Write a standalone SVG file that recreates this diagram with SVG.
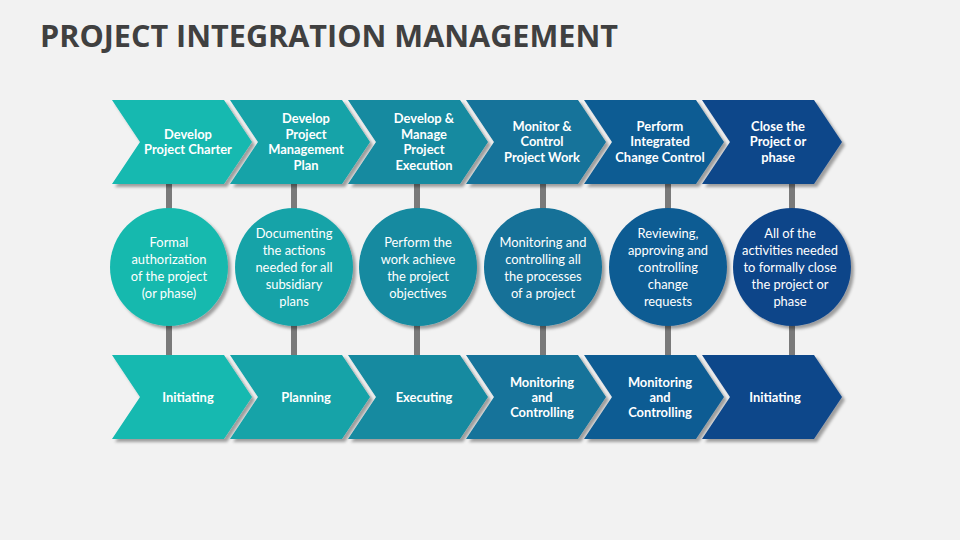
<svg xmlns="http://www.w3.org/2000/svg" width="960" height="540" viewBox="0 0 960 540">
<defs>
<filter id="sh" x="-20%" y="-20%" width="140%" height="140%">
<feDropShadow dx="3" dy="3" stdDeviation="1.8" flood-color="#000" flood-opacity="0.35"/>
</filter>
<path id="chev" d="M0,0 H112 L140,42 L112,84 H0 L28,42 Z"/>
</defs>
<style>
.t{font-family:Lato,"Open Sans","Liberation Sans",sans-serif;font-weight:bold;font-size:12.9px;fill:#fff;text-anchor:middle}
.c{font-family:Lato,"Open Sans","Liberation Sans",sans-serif;font-weight:normal;font-size:12.9px;fill:#fff;text-anchor:middle}
.bar{fill:#7a7a7a}
</style>
<rect width="960" height="540" fill="#f2f2f2"/>
<text x="40" y="47" font-family="'Open Sans','Liberation Sans',sans-serif" font-weight="bold" font-size="30" fill="#404040" textLength="578" lengthAdjust="spacingAndGlyphs">PROJECT INTEGRATION MANAGEMENT</text>

<g id="connectors">
<rect class="bar" x="166" y="182" width="6" height="30"/>
<rect class="bar" x="291" y="182" width="6" height="30"/>
<rect class="bar" x="414" y="182" width="6" height="30"/>
<rect class="bar" x="540" y="182" width="6" height="30"/>
<rect class="bar" x="665" y="182" width="6" height="30"/>
<rect class="bar" x="789" y="182" width="6" height="30"/>
<rect class="bar" x="166" y="322" width="6" height="36"/>
<rect class="bar" x="291" y="322" width="6" height="36"/>
<rect class="bar" x="414" y="322" width="6" height="36"/>
<rect class="bar" x="540" y="322" width="6" height="36"/>
<rect class="bar" x="665" y="322" width="6" height="36"/>
<rect class="bar" x="789" y="322" width="6" height="36"/>
</g>

<g id="top1"><use href="#chev" x="112" y="100" fill="#15b9b0" filter="url(#sh)"/>
<text class="t"><tspan x="188" y="138.5">Develop</tspan><tspan x="188" y="154">Project Charter</tspan></text></g>
<g id="top2"><use href="#chev" x="230" y="100" fill="#13a3a8" filter="url(#sh)"/>
<text class="t"><tspan x="306" y="123">Develop</tspan><tspan x="306" y="138.5">Project</tspan><tspan x="306" y="154">Management</tspan><tspan x="306" y="169.5">Plan</tspan></text></g>
<g id="top3"><use href="#chev" x="348" y="100" fill="#138aa0" filter="url(#sh)"/>
<text class="t"><tspan x="424" y="123">Develop &amp;</tspan><tspan x="424" y="138.5">Manage</tspan><tspan x="424" y="154">Project</tspan><tspan x="424" y="169.5">Execution</tspan></text></g>
<g id="top4"><use href="#chev" x="466" y="100" fill="#12739a" filter="url(#sh)"/>
<text class="t"><tspan x="542" y="130.5">Monitor &amp;</tspan><tspan x="542" y="146">Control</tspan><tspan x="542" y="161.5">Project Work</tspan></text></g>
<g id="top5"><use href="#chev" x="584" y="100" fill="#115c93" filter="url(#sh)"/>
<text class="t"><tspan x="660" y="130.5">Perform</tspan><tspan x="660" y="146">Integrated</tspan><tspan x="660" y="161.5">Change Control</tspan></text></g>
<g id="top6"><use href="#chev" x="702" y="100" fill="#0f468a" filter="url(#sh)"/>
<text class="t"><tspan x="778" y="130.5">Close the</tspan><tspan x="778" y="146">Project or</tspan><tspan x="778" y="161.5">phase</tspan></text></g>

<g id="circ1"><circle cx="169" cy="267" r="59" fill="#15b9ae" filter="url(#sh)"/>
<text class="c"><tspan x="169" y="247">Formal</tspan><tspan x="169" y="264">authorization</tspan><tspan x="169" y="281">of the project</tspan><tspan x="169" y="298">(or phase)</tspan></text></g>
<g id="circ2"><circle cx="294" cy="267" r="59" fill="#14a3a8" filter="url(#sh)"/>
<text class="c"><tspan x="294" y="238">Documenting</tspan><tspan x="294" y="255">the actions</tspan><tspan x="294" y="272">needed for all</tspan><tspan x="294" y="289">subsidiary</tspan><tspan x="294" y="306">plans</tspan></text></g>
<g id="circ3"><circle cx="418" cy="267" r="59" fill="#138aa0" filter="url(#sh)"/>
<text class="c"><tspan x="418" y="247">Perform the</tspan><tspan x="418" y="264">work achieve</tspan><tspan x="418" y="281">the project</tspan><tspan x="418" y="298">objectives</tspan></text></g>
<g id="circ4"><circle cx="543" cy="267" r="59" fill="#127198" filter="url(#sh)"/>
<text class="c"><tspan x="543" y="247">Monitoring and</tspan><tspan x="543" y="264">controlling all</tspan><tspan x="543" y="281">the processes</tspan><tspan x="543" y="298">of a project</tspan></text></g>
<g id="circ5"><circle cx="668" cy="267" r="59" fill="#115b93" filter="url(#sh)"/>
<text class="c"><tspan x="668" y="238">Reviewing,</tspan><tspan x="668" y="255">approving and</tspan><tspan x="668" y="272">controlling</tspan><tspan x="668" y="289">change</tspan><tspan x="668" y="306">requests</tspan></text></g>
<g id="circ6"><circle cx="792" cy="267" r="59" fill="#0f4589" filter="url(#sh)"/>
<text class="c"><tspan x="790" y="238">All of the</tspan><tspan x="790" y="255">activities needed</tspan><tspan x="790" y="272">to formally close</tspan><tspan x="790" y="289">the project or</tspan><tspan x="790" y="306">phase</tspan></text></g>

<g id="bot1"><use href="#chev" x="112" y="355" fill="#15b9b0" filter="url(#sh)"/>
<text class="t" x="188" y="401.5">Initiating</text></g>
<g id="bot2"><use href="#chev" x="230" y="355" fill="#13a3a8" filter="url(#sh)"/>
<text class="t" x="306" y="401.5">Planning</text></g>
<g id="bot3"><use href="#chev" x="348" y="355" fill="#138aa0" filter="url(#sh)"/>
<text class="t" x="424" y="401.5">Executing</text></g>
<g id="bot4"><use href="#chev" x="466" y="355" fill="#12739a" filter="url(#sh)"/>
<text class="t"><tspan x="542" y="386.5">Monitoring</tspan><tspan x="542" y="401.5">and</tspan><tspan x="542" y="416.5">Controlling</tspan></text></g>
<g id="bot5"><use href="#chev" x="584" y="355" fill="#115c93" filter="url(#sh)"/>
<text class="t"><tspan x="660" y="386.5">Monitoring</tspan><tspan x="660" y="401.5">and</tspan><tspan x="660" y="416.5">Controlling</tspan></text></g>
<g id="bot6"><use href="#chev" x="702" y="355" fill="#0f468a" filter="url(#sh)"/>
<text class="t" x="775" y="401.5">Initiating</text></g>
</svg>
